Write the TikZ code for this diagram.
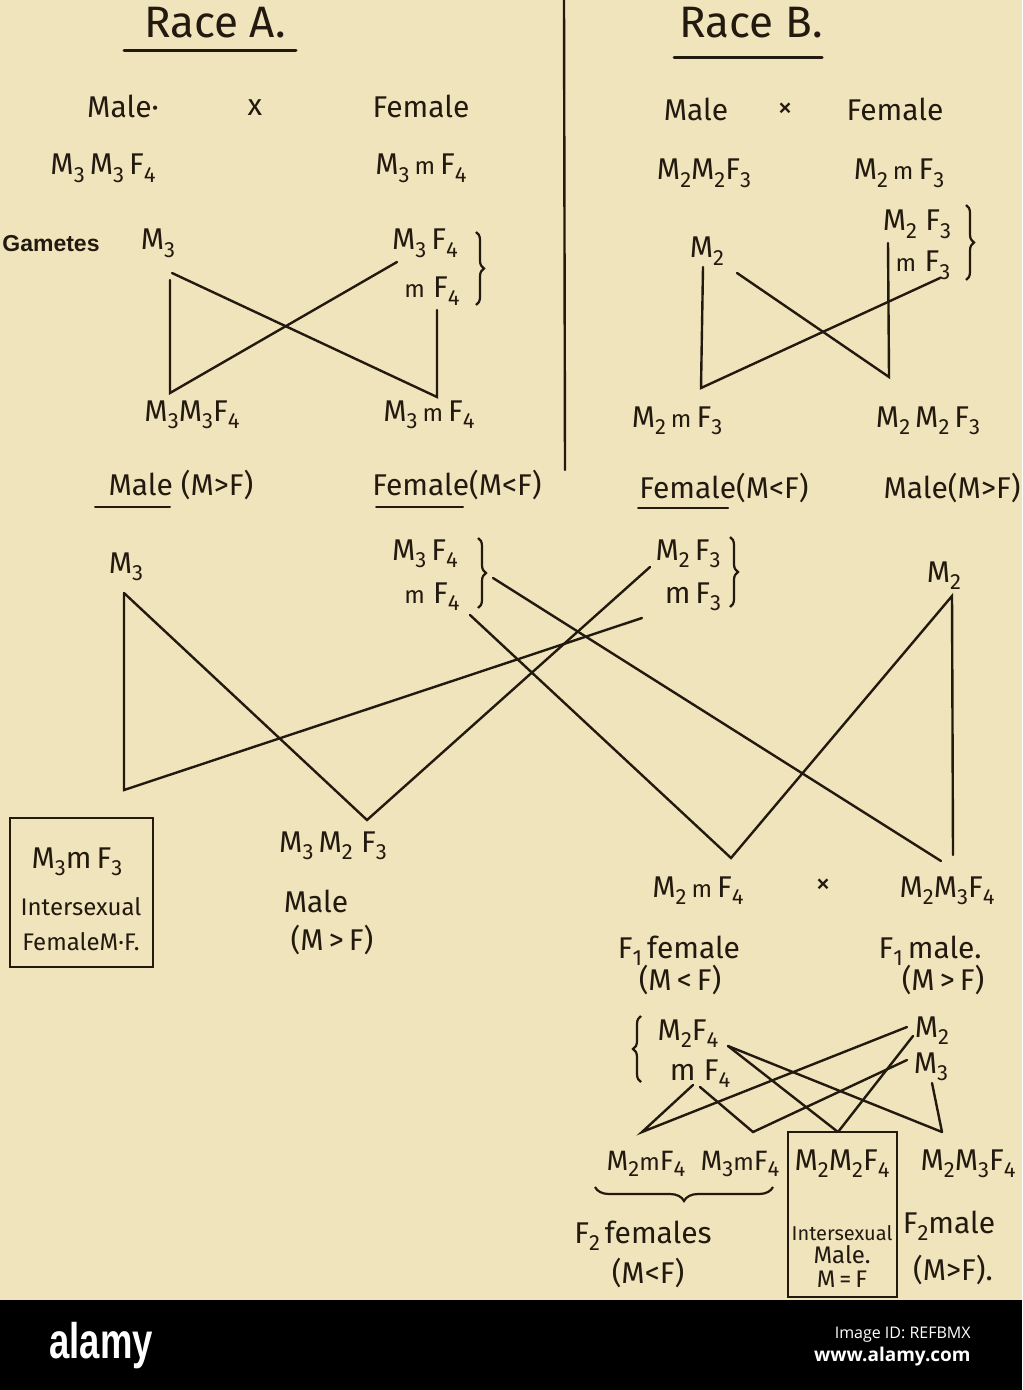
\documentclass[tikz,border=0pt]{standalone}
\usepackage{fontspec}
\setmainfont{Fira Sans}
\newfontfamily\gamfont{Liberation Sans}
\newfontfamily\logofont{Open Sans}
\usetikzlibrary{decorations.pathreplacing}
\definecolor{paper}{HTML}{F0E4BC}
\definecolor{ink}{HTML}{22190F}
\newcommand\sbs[1]{\raisebox{-0.45ex}{\fontsize{11}{11}\selectfont #1}}
\newcommand\sm{{\fontsize{12}{12}\selectfont m}}
\begin{document}
\begin{tikzpicture}[x=0.5pt,y=-0.5pt,
  lbl/.style={anchor=base,inner sep=0pt,text=ink,font=\fontsize{15}{18}\selectfont},
  big/.style={lbl,font=\fontsize{22}{26}\selectfont},
  boxtxt/.style={lbl,font=\fontsize{12}{14}\selectfont},
  ln/.style={draw=ink,line width=1.2pt,line cap=round},
  brc/.style={draw=ink,line width=1.1pt,decorate,decoration={brace,amplitude=4pt}},
]
\fill[paper] (0,0) rectangle (1022,1390);
\useasboundingbox (0,0) rectangle (1022,1390);

% ---------- headings ----------
\node[big] (tRaceA) at (215,38) {Race A.};
\node[big] (tRaceB) at (751,38) {Race B.};
\draw[ln,line width=1.5pt] (124,51) -- (296,51);
\draw[ln,line width=1.5pt] (674,58) -- (822,58);
\draw[ln] (564,0) -- (565,470);

% ---------- Race A ----------
\node[lbl] (tAmale) at (123,118) {Male·};
\node[lbl] (tAx) at (255,116) {x};
\node[lbl] (tAfemale) at (421,118) {Female};
\node[lbl] (tAp1) at (103,175) {M\sbs{3}\,M\sbs{3}\,F\sbs{4}};
\node[lbl] (tAp2) at (421,175) {M\sbs{3}\,\sm\,F\sbs{4}};
\node[anchor=base west,inner sep=0pt,text=ink,font=\gamfont\bfseries\fontsize{11.5}{14}\selectfont] (tGam) at (2,252) {Gametes};
\node[lbl] (tAg1) at (158,250) {M\sbs{3}};
\node[lbl] (tAg2) at (425,250) {M\sbs{3}\,F\sbs{4}};
\node[lbl] (tAg3) at (432,298) {\sm\;F\sbs{4}};
\draw[brc] (476,232) -- (476,305);
\node[lbl] (tAo1) at (192,421) {M\sbs{3}M\sbs{3}F\sbs{4}};
\node[lbl] (tAo2) at (429,421) {M\sbs{3}\,\sm\,F\sbs{4}};

\coordinate (aLtop) at (170,280);
\coordinate (aDtop) at (172,273);
\coordinate (aLbot) at (170,393);
\coordinate (aRend) at (397,262);
\coordinate (aRtop) at (437,310);
\coordinate (aRbot) at (437,397);
\draw[ln] (aLtop) -- (aLbot) -- (aRend);
\draw[ln] (aDtop) -- (aRbot) -- (aRtop);

% ---------- Race B ----------
\node[lbl] (tBmale) at (696,121) {Male};
\node[lbl] (tBx) at (785,118) {×};
\node[lbl] (tBfemale) at (895,121) {Female};
\node[lbl] (tBp1) at (704,180) {M\sbs{2}M\sbs{2}F\sbs{3}};
\node[lbl] (tBp2) at (899,180) {M\sbs{2}\,\sm\,F\sbs{3}};
\node[lbl] (tBg1) at (707,258) {M\sbs{2}};
\node[lbl] (tBg2) at (917,231) {M\sbs{2}\;F\sbs{3}};
\node[lbl] (tBg3) at (923,272) {\sm\;F\sbs{3}};
\draw[brc] (966,205) -- (966,280);
\node[lbl] (tBo1) at (677,427) {M\sbs{2}\,\sm\,F\sbs{3}};
\node[lbl] (tBo2) at (928,427) {M\sbs{2}\,M\sbs{2}\,F\sbs{3}};

\coordinate (bLtop) at (703,267);
\coordinate (bLbot) at (701,388);
\coordinate (bRend) at (940,278);
\coordinate (bDtop) at (737,273);
\coordinate (bRbot) at (889,377);
\coordinate (bRtop) at (888,243);
\draw[ln] (bLtop) -- (bLbot) -- (bRend);
\draw[ln] (bDtop) -- (bRbot) -- (bRtop);

% ---------- crosses between races ----------
\node[lbl] (tMmale) at (181,495) {Male (M>F)};
\draw[ln,line width=1pt] (95,507) -- (170,507);
\node[lbl] (tMfem1) at (457,495) {Female(M<F)};
\draw[ln,line width=1pt] (376,507) -- (463,507);
\node[lbl] (tMfem2) at (724,498) {Female(M<F)};
\draw[ln,line width=1pt] (638,508) -- (728,508);
\node[lbl] (tMmale2) at (952,498) {Male(M>F)};

\node[lbl] (tMg1) at (126,573) {M\sbs{3}};
\node[lbl] (tMg2) at (425,560) {M\sbs{3}\,F\sbs{4}};
\node[lbl] (tMg3) at (432,603) {\sm\;F\sbs{4}};
\draw[brc] (478,538) -- (478,608);
\node[lbl] (tMg4) at (688,560) {M\sbs{2}\,F\sbs{3}};
\node[lbl] (tMg5) at (693,603) {m\,F\sbs{3}};
\draw[brc] (730,537) -- (730,607);
\node[lbl] (tMg6) at (944,582) {M\sbs{2}};

\coordinate (mLtop) at (124,593);
\coordinate (mLbot) at (124,790);
\coordinate (mV1) at (367,820);
\coordinate (mC) at (642,618);
\coordinate (mD) at (650,567);
\coordinate (mE) at (493,578);
\coordinate (mE2) at (941,861);
\coordinate (mF) at (470,615);
\coordinate (mV2) at (731,858);
\coordinate (mRtop) at (952,596);
\coordinate (mRbot) at (953,855);
\draw[ln] (mLtop) -- (mLbot) -- (mC);
\draw[ln] (mLtop) -- (mV1) -- (mD);
\draw[ln] (mE) -- (mE2);
\draw[ln] (mF) -- (mV2) -- (mRtop) -- (mRbot);

\node[lbl] (tMo1) at (333,852) {M\sbs{3}\,M\sbs{2}\;F\sbs{3}};
\node[lbl] (tMo1b) at (316,912) {Male};
\node[lbl] (tMo1c) at (332,950) {(M\,>\,F)};

\draw[ln] (10,818) rectangle (153,967);
\node[lbl] (tBox1a) at (77,868) {M\sbs{3}m\,F\sbs{3}};
\node[boxtxt] (tBox1b) at (81,915) {Intersexual};
\node[boxtxt] (tBox1c) at (81,950) {FemaleM·F.};

\node[lbl] (tMo2) at (698,897) {M\sbs{2}\,\sm\,F\sbs{4}};
\node[lbl] (tMx) at (823,893) {×};
\node[lbl] (tMo3) at (947,897) {M\sbs{2}M\sbs{3}F\sbs{4}};

% ---------- F1 / F2 ----------
\node[lbl] (tF1f) at (679,958) {F\sbs{1}\,female};
\node[lbl] (tF1fb) at (680,990) {(M\,<\,F)};
\node[lbl] (tF1m) at (930,958) {F\sbs{1}\,male.};
\node[lbl] (tF1mb) at (943,990) {(M\,>\,F)};

\draw[brc] (641,1082) -- (641,1016);
\node[lbl] (tF1g1) at (688,1040) {M\sbs{2}F\sbs{4}};
\node[lbl] (tF1g2) at (700,1080) {m\;F\sbs{4}};
\node[lbl] (tF1g3) at (932,1037) {M\sbs{2}};
\node[lbl] (tF1g4) at (931,1073) {M\sbs{3}};

\coordinate (q1) at (728,1046);
\coordinate (q2) at (693,1085);
\coordinate (q3) at (700,1087);
\coordinate (q4) at (907,1027);
\coordinate (q5) at (913,1036);
\coordinate (q6) at (907,1060);
\coordinate (q7) at (932,1083);
\coordinate (P1) at (642,1132);
\coordinate (P2) at (753,1132);
\coordinate (P3) at (838,1132);
\coordinate (P4) at (942,1132);
\draw[ln] (q1) -- (P3);
\draw[ln] (q1) -- (P4);
\draw[ln] (q2) -- (P1) -- (q4);
\draw[ln] (q3) -- (P2) -- (q6);
\draw[ln] (q5) -- (P3);
\draw[ln] (q7) -- (P4);

\node[lbl,font=\fontsize{14}{16}\selectfont] (tF2a) at (646,1170) {M\sbs{2}\sm F\sbs{4}};
\node[lbl,font=\fontsize{14}{16}\selectfont] (tF2b) at (740,1170) {M\sbs{3}\sm F\sbs{4}};
\draw[ln] (788,1132) rectangle (897,1297);
\node[lbl] (tF2c) at (842,1170) {M\sbs{2}M\sbs{2}F\sbs{4}};
\node[anchor=base,inner sep=0pt,text=ink,font=\fontsize{10}{12}\selectfont] (tF2c1) at (842,1240) {Intersexual};
\node[boxtxt] (tF2c2) at (842,1263) {Male.};
\node[boxtxt] (tF2c3) at (842,1287) {M\,=\,F};
\node[lbl] (tF2d) at (968,1170) {M\sbs{2}M\sbs{3}F\sbs{4}};

\draw[brc,decoration={brace,amplitude=7pt}] (773,1187) -- (595,1187);
\node[lbl] (tF2e) at (643,1243) {F\sbs{2}\,females};
\node[lbl] (tF2f) at (648,1283) {(M<F)};
\node[lbl] (tF2g) at (949,1233) {F\sbs{2}male};
\node[lbl] (tF2h) at (953,1280) {(M>F).};

% ---------- stock-photo strip ----------
\fill[black] (0,1300) rectangle (1022,1390);
\node[anchor=base west,inner sep=0pt,text=white,font=\gamfont\bfseries\fontsize{25}{25}\selectfont] (logo) at (49,1358) {\scalebox{0.73}[1]{alamy}};
\node[anchor=base east,inner sep=0pt,text=white,font=\logofont\fontsize{8}{8}\selectfont] (imgid) at (971,1338) {Image ID: REFBMX};
\node[anchor=base east,inner sep=0pt,text=white,font=\logofont\bfseries\fontsize{9.5}{9.5}\selectfont] (www) at (971,1361) {www.alamy.com};
\end{tikzpicture}
\end{document}
